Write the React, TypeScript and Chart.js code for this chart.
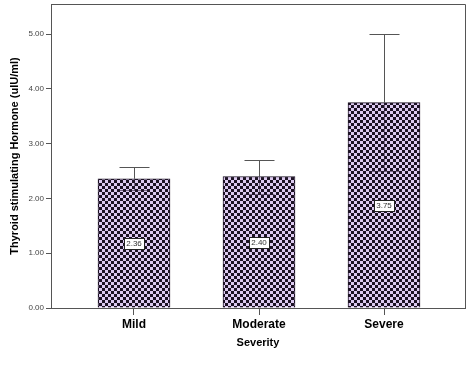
import React, { useEffect, useRef } from 'react';
import { Chart, registerables } from 'chart.js';

Chart.register(...registerables);

const categories = ['Mild', 'Moderate', 'Severe'];
const positions = [1, 2, 3];
const means = [2.36, 2.4, 3.75];
const errLow = [2.15, 2.09, 2.5];
const errHigh = [2.57, 2.71, 5.0];
const yTicks = [0, 1, 2, 3, 4, 5];

const FONT = "'Liberation Sans', Arial, sans-serif";

function makePattern(): CanvasPattern | string {
  const c = document.createElement('canvas');
  c.width = 6;
  c.height = 6;
  const g = c.getContext('2d');
  if (!g) return '#6a5a78';
  g.fillStyle = '#dccaf0';
  g.fillRect(0, 0, 6, 6);
  g.fillStyle = '#1c1224';
  g.fillRect(0, 0, 3, 3);
  g.fillRect(3, 3, 3, 3);
  const p = g.createPattern(c, 'repeat');
  return p || '#6a5a78';
}

const framePlugin = {
  id: 'frame',
  afterDraw(chart: any) {
    const { ctx, chartArea } = chart;
    ctx.save();
    ctx.strokeStyle = '#555';
    ctx.lineWidth = 1;
    ctx.beginPath();
    ctx.moveTo(Math.round(chartArea.left) + 0.5, Math.round(chartArea.top) + 0.5);
    ctx.lineTo(Math.round(chartArea.right) + 0.5, Math.round(chartArea.top) + 0.5);
    ctx.lineTo(Math.round(chartArea.right) + 0.5, Math.round(chartArea.bottom) + 0.5);
    ctx.stroke();
    ctx.restore();
  },
};

const errorPlugin = {
  id: 'errbars',
  afterDatasetsDraw(chart: any) {
    const { ctx } = chart;
    const y = chart.scales.y;
    const meta = chart.getDatasetMeta(0);
    ctx.save();
    ctx.lineWidth = 1;
    meta.data.forEach((el: any, i: number) => {
      const cx = Math.round(el.x) + 0.5;
      const ym = y.getPixelForValue(means[i]);
      const yh = Math.round(y.getPixelForValue(errHigh[i])) + 0.5;
      const yl = Math.round(y.getPixelForValue(errLow[i])) + 0.5;
      ctx.strokeStyle = '#555';
      ctx.beginPath();
      ctx.moveTo(cx, ym);
      ctx.lineTo(cx, yh);
      ctx.moveTo(cx - 15, yh);
      ctx.lineTo(cx + 15, yh);
      ctx.stroke();
      ctx.strokeStyle = 'rgba(40,25,50,0.55)';
      ctx.beginPath();
      ctx.moveTo(cx, ym);
      ctx.lineTo(cx, yl);
      ctx.moveTo(cx - 15, yl);
      ctx.lineTo(cx + 15, yl);
      ctx.stroke();
    });
    ctx.font = `8px ${FONT}`;
    ctx.textAlign = 'center';
    ctx.textBaseline = 'middle';
    meta.data.forEach((el: any, i: number) => {
      const txt = means[i].toFixed(2);
      const cx = el.x;
      const cy = (el.y + el.base) / 2;
      const w = ctx.measureText(txt).width;
      const bx = Math.round(cx - w / 2 - 2) + 0.5;
      const by = Math.round(cy - 5.5) + 0.5;
      const bw = Math.round(w + 4);
      ctx.fillStyle = '#fff';
      ctx.fillRect(bx, by, bw, 11);
      ctx.strokeStyle = '#222';
      ctx.strokeRect(bx, by, bw, 11);
      ctx.fillStyle = '#333';
      ctx.fillText(txt, cx, cy + 0.5);
    });
    ctx.restore();
  },
};

export default function App() {
  const ref = useRef<HTMLCanvasElement | null>(null);

  useEffect(() => {
    if (!ref.current) return;
    const pattern = makePattern();
    const chart = new Chart(ref.current, {
      type: 'bar',
      data: {
        datasets: [
          {
            data: positions.map((x, i) => ({ x, y: means[i] })),
            backgroundColor: pattern as any,
            borderColor: '#1c1224',
            borderWidth: 1,
            barThickness: 72,
          },
        ],
      },
      options: {
        animation: false,
        responsive: false,
        layout: { padding: { top: 4, right: 9, left: 0, bottom: 0 } },
        plugins: {
          legend: { display: false },
          tooltip: { enabled: false },
        },
        scales: {
          x: {
            type: 'linear',
            offset: false,
            min: 0.336,
            max: 3.648,
            afterBuildTicks: (scale: any) => {
              scale.ticks = positions.map((v) => ({ value: v }));
            },
            afterFit: (scale: any) => {
              scale.height = 71;
              scale.paddingLeft = 0;
              scale.paddingRight = 0;
            },
            ticks: {
              callback: (v: any) => categories[positions.indexOf(Number(v))] ?? '',
              font: { family: FONT, size: 12, weight: 'bold' },
              color: '#000',
              padding: 2,
              maxRotation: 0,
              autoSkip: false,
            },
            grid: {
              offset: false,
              drawOnChartArea: false,
              tickLength: 7,
              color: '#555',
            },
            border: { color: '#555', width: 1 },
            title: {
              display: true,
              text: 'Severity',
              font: { family: FONT, size: 11, weight: 'bold' },
              color: '#000',
              padding: { top: 0, bottom: 29 },
            },
          },
          y: {
            type: 'linear',
            min: 0,
            max: 5.55,
            afterBuildTicks: (scale: any) => {
              scale.ticks = yTicks.map((v) => ({ value: v }));
            },
            afterFit: (scale: any) => {
              scale.width = 51;
              scale.paddingTop = 0;
              scale.paddingBottom = 0;
            },
            ticks: {
              callback: (v: any) => Number(v).toFixed(2),
              font: { family: FONT, size: 8 },
              color: '#444',
              padding: 2,
            },
            grid: {
              drawOnChartArea: false,
              tickLength: 5,
              color: '#555',
            },
            border: { color: '#555', width: 1 },
            title: {
              display: true,
              text: 'Thyroid stimulating Hormone (uIU/ml)',
              font: { family: FONT, size: 11, weight: 'bold' },
              color: '#000',
              padding: { top: 8, bottom: 0 },
            },
          },
        },
      },
      plugins: [framePlugin, errorPlugin],
    });
    return () => chart.destroy();
  }, []);

  return (
    <div style={{ position: 'absolute', left: 0, top: 0, width: 474, height: 379, background: '#fff' }}>
      <canvas ref={ref} width={474} height={379} style={{ display: 'block' }} />
    </div>
  );
}
